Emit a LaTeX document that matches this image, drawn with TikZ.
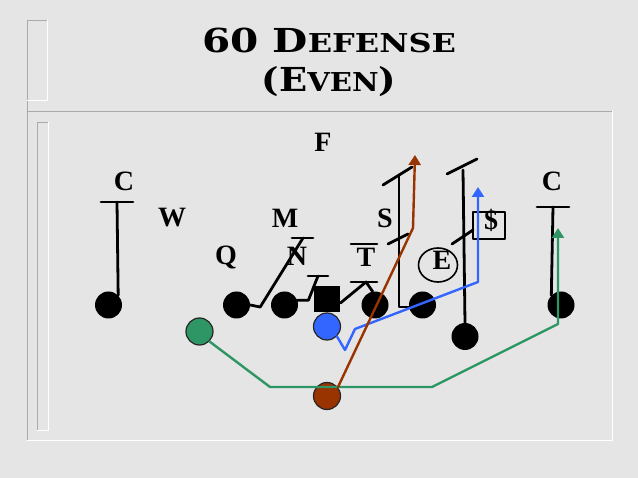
\documentclass[tikz,border=0pt]{standalone}
\usepackage{fontspec}
\usepackage{graphicx}
\setmainfont{Liberation Serif}
\newfontfamily\titlefont{DejaVu Serif}
\usetikzlibrary{arrows.meta,shapes.geometric}
\definecolor{marble}{RGB}{229,229,229}
\definecolor{framegray}{RGB}{170,170,170}
\definecolor{routebrown}{RGB}{153,51,0}
\definecolor{routeblue}{RGB}{51,102,255}
\definecolor{routegreen}{RGB}{46,150,100}
\begin{document}
\begin{tikzpicture}[x=1pt,y=-1pt,line join=round,line cap=round]
    \tikzset{player/.style={circle,fill=black,minimum size=27pt,inner sep=0pt},
        back/.style={circle,draw=black!85,line width=1.2pt,minimum size=27pt,inner sep=0pt},
        snapbox/.style={fill=black,minimum size=26.5pt,inner sep=0pt},
        deflabel/.style={font=\fontsize{28}{28}\selectfont\bfseries,inner sep=0pt},
        titletext/.style={font=\titlefont\bfseries\fontsize{33}{33}\selectfont,inner sep=0pt,anchor=base},
        block/.style={line width=2.8pt},
        route/.style={line width=2.4pt,-{Triangle[length=10pt,width=12pt]}}}
    \def \bigcap{\fontsize{33}{33}\selectfont}
    \def \smallcap{\fontsize{26}{26}\selectfont}
    % background and frame
    \fill[marble] (0,0) rectangle (638,478);
    \useasboundingbox (0,0) rectangle (638,478);
    \draw[framegray,line width=0.8pt] (27,440) -- (27,20) -- (47,20);
    \draw[white,line width=0.8pt] (47,20) -- (47,100) -- (27,100);
    \draw[framegray,line width=0.8pt] (27,111) -- (612,111);
    \draw[white,line width=0.8pt] (612,111) -- (612,440) -- (27,440);
    \draw[framegray,line width=0.6pt] (37,430) -- (37,122) -- (48,122);
    \draw[white,line width=0.6pt] (48,122) -- (48,430) -- (37,430);
    % title
    \node[titletext] (title1) at (329,53) {\scalebox{1.23}[1]{\bigcap 60 D\smallcap EFENSE}};
    \node[titletext] (title2) at (329,92) {\scalebox{1.12}[1]{\bigcap (E\smallcap VEN\bigcap )}};
    % offense
    \node[player] (lend) at (108.5,305) {};
    \node[player] (lt) at (236.5,305) {};
    \node[player] (lg) at (284.5,305) {};
    \node[snapbox] (snap) at (327,299) {};
    \node[player] (rg) at (375,305) {};
    \node[player] (rt) at (422.5,305) {};
    \node[player] (wing) at (465,336.5) {};
    \node[player] (rend) at (561,305) {};
    \node[back,fill=routegreen] (hback) at (199.5,331.5) {};
    \node[back,fill=routeblue] (qback) at (327,326.5) {};
    \node[back,fill=routebrown] (fback) at (327,396) {};
    % defense
    \node[deflabel] (fs) at (323,142) {F};
    \node[deflabel] (lc) at (124,181) {C};
    \node[deflabel] (rc) at (552,181) {C};
    \node[deflabel] (wl) at (172,218) {W};
    \node[deflabel] (ml) at (285,218) {M};
    \node[deflabel] (sl) at (385,218) {S};
    \node[draw,line width=1.6pt,minimum width=32pt,minimum height=27pt,inner sep=0pt] (sbox) at (489,225.5) {};
    \node[deflabel] (ss) at (491,220) {\$};
    \node[deflabel] (ql) at (226,258) {Q};
    \node[deflabel] (nl) at (297,256) {N};
    \node[deflabel] (tl) at (366,257) {T};
    \node[deflabel] (el) at (442,260) {E};
    \node[draw,ellipse,line width=1.6pt,minimum width=39pt,minimum height=34pt,inner sep=0pt] (eoval) at (438,265) {};
    % blocks
    \coordinate (lctop) at (117,202);
    \coordinate (rctop) at (553,207);
    \coordinate (ntop) at (303,238);
    \coordinate (gbar) at (318,276);
    \coordinate (tbar) at (366,282);
    \coordinate (ttop) at (364,244);
    \coordinate (stop) at (399,175);
    \coordinate (wtop) at (463,170);
    \draw[block] (lend.north east) -- (lctop);
    \draw[block] ([xshift=-16pt]lctop) -- ([xshift=16pt]lctop);
    \draw[block] (rend.north west) -- (rctop);
    \draw[block] ([xshift=-16pt]rctop) -- ([xshift=16pt]rctop);
    \draw[block] (lt.east) -- ++(10,2) -- (ntop);
    \draw[block] ([xshift=-11pt]ntop) -- ([xshift=10pt]ntop);
    \draw[block] (lg.20) -- ++(11,0) -- (gbar);
    \draw[block] ([xshift=-10pt]gbar) -- ([xshift=10pt]gbar);
    \draw[block] ([yshift=-4pt]snap.east) -- (tbar) -- (rg.100);
    \draw[block] ([xshift=-15pt]tbar) -- ([xshift=11pt]tbar);
    \draw[block] ([xshift=-13pt]ttop) -- ([xshift=13pt]ttop);
    \draw[block] ([yshift=-2pt]rt.west) -| (stop);
    \draw[block] (383,185) -- (412,167);
    \draw[block] (388,244) -- (408,234);
    \draw[block] (wing.north) -- (wtop);
    \draw[block] (447,174) -- (477,159);
    \draw[block] (452,244) -- (473,230);
    % routes
    \coordinate (garrow) at (558,228);
    \coordinate (barrow) at (478,187);
    \coordinate (farrow) at (415,155);
    \draw[route,routegreen] (hback.-45) -- (270,387) -- (432,387) -- (558,324) -- (garrow);
    \draw[route,routeblue] (qback.-45) -- (345,350) -- (355,329) -- (478,282) -- (barrow);
    \draw[route,routebrown] (fback.39) -- (413,228) -- (farrow);
\end{tikzpicture}
\end{document}
